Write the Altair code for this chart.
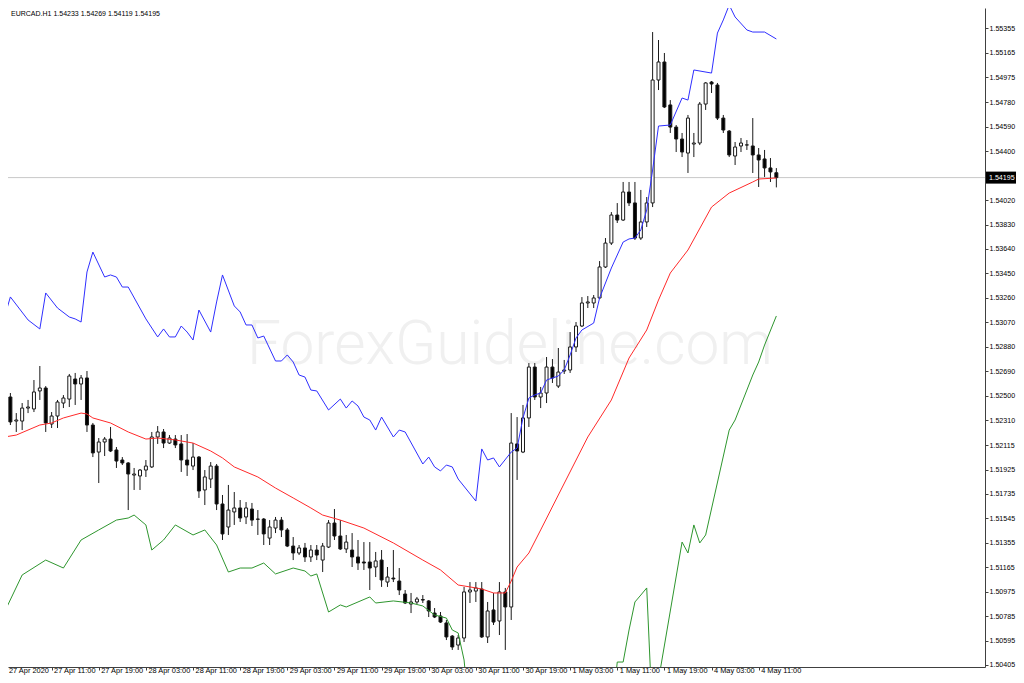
import altair as alt
import pandas as pd

# ---------------- data (EURCAD H1, bar 0 = 27 Apr 2020 03:00) ----------------
opens = [1.52676, 1.52489, 1.52302, 1.52302, 1.52403, 1.52396, 1.52536, 1.52559, 1.52279, 1.52341,
         1.52442, 1.52473, 1.52629, 1.52590, 1.52637, 1.52271, 1.52061, 1.52139, 1.52162, 1.52077,
         1.51999, 1.51976, 1.51882, 1.51875, 1.51921, 1.51945, 1.52178, 1.52217, 1.52131, 1.52162,
         1.52124, 1.51999, 1.51952, 1.52022, 1.51766, 1.51851, 1.51952, 1.51657, 1.51478, 1.51595,
         1.51626, 1.51556, 1.51618, 1.51540, 1.51540, 1.51392, 1.51470, 1.51532, 1.51455, 1.51330,
         1.51276, 1.51315, 1.51245, 1.51299, 1.51221, 1.51322, 1.51509, 1.51408, 1.51307, 1.51299,
         1.51245, 1.51206, 1.51206, 1.51167, 1.51221, 1.51050, 1.51081, 1.51058, 1.50957, 1.50879,
         1.50895, 1.50914, 1.50903, 1.50809, 1.50786, 1.50732, 1.50630, 1.50560, 1.50615, 1.50973,
         1.50980, 1.50996, 1.50623, 1.50833, 1.50747, 1.50973, 1.50856, 1.52124, 1.52061, 1.52326,
         1.52722, 1.52489, 1.52520, 1.52722, 1.52574, 1.52691, 1.52699, 1.52878, 1.53041, 1.53220,
         1.53220, 1.53259, 1.53500, 1.53686, 1.53904, 1.53865, 1.54083, 1.53998, 1.53725, 1.53850,
         1.53998, 1.54954, 1.55094, 1.54760, 1.54588, 1.54495, 1.54386, 1.54456, 1.54464, 1.54767,
         1.54938, 1.54915, 1.54658, 1.54557, 1.54363, 1.54441, 1.54448, 1.54441, 1.54371, 1.54340,
         1.54270, 1.54233]
highs = [1.52699, 1.52520, 1.52364, 1.52442, 1.52466, 1.52621, 1.52730, 1.52574, 1.52372, 1.52466,
         1.52504, 1.52668, 1.52676, 1.52660, 1.52691, 1.52287, 1.52170, 1.52178, 1.52256, 1.52100,
         1.52022, 1.51983, 1.51937, 1.51929, 1.51999, 1.52217, 1.52263, 1.52240, 1.52193, 1.52193,
         1.52193, 1.52201, 1.52131, 1.52030, 1.51921, 1.51983, 1.51968, 1.51727, 1.51805, 1.51750,
         1.51688, 1.51672, 1.51665, 1.51610, 1.51548, 1.51532, 1.51556, 1.51556, 1.51470, 1.51400,
         1.51338, 1.51354, 1.51338, 1.51338, 1.51354, 1.51532, 1.51618, 1.51532, 1.51416, 1.51431,
         1.51377, 1.51361, 1.51361, 1.51284, 1.51299, 1.51167, 1.51299, 1.51159, 1.50988, 1.50965,
         1.50934, 1.50949, 1.50910, 1.50848, 1.50817, 1.50755, 1.50638, 1.50638, 1.51012, 1.51050,
         1.51050, 1.51050, 1.50895, 1.50965, 1.51050, 1.51004, 1.52364, 1.52333, 1.52427, 1.52753,
         1.52753, 1.52567, 1.52800, 1.52784, 1.52870, 1.52777, 1.52994, 1.53072, 1.53266, 1.53274,
         1.53282, 1.53546, 1.53725, 1.53927, 1.53997, 1.54161, 1.54161, 1.54161, 1.54099, 1.54044,
         1.55327, 1.55265, 1.55164, 1.54798, 1.54604, 1.54542, 1.54682, 1.54542, 1.54783, 1.54938,
         1.54946, 1.54931, 1.54682, 1.54565, 1.54472, 1.54503, 1.54487, 1.54658, 1.54425, 1.54410,
         1.54347, 1.54269]
lows = [1.52466, 1.52271, 1.52217, 1.52232, 1.52364, 1.52372, 1.52466, 1.52217, 1.52248, 1.52248,
        1.52403, 1.52411, 1.52427, 1.52466, 1.52217, 1.52022, 1.51820, 1.52030, 1.52061, 1.51937,
        1.51960, 1.51610, 1.51766, 1.51766, 1.51867, 1.51937, 1.52124, 1.52092, 1.52124, 1.52092,
        1.51906, 1.51875, 1.51921, 1.51704, 1.51649, 1.51781, 1.51610, 1.51377, 1.51416, 1.51494,
        1.51517, 1.51501, 1.51486, 1.51416, 1.51338, 1.51338, 1.51431, 1.51400, 1.51322, 1.51221,
        1.51260, 1.51206, 1.51206, 1.51221, 1.51128, 1.51315, 1.51377, 1.51299, 1.51276, 1.51167,
        1.51144, 1.51144, 1.50988, 1.51089, 1.51012, 1.51012, 1.51050, 1.50949, 1.50879, 1.50809,
        1.50879, 1.50887, 1.50778, 1.50770, 1.50732, 1.50599, 1.50522, 1.50522, 1.50584, 1.50887,
        1.50895, 1.50615, 1.50576, 1.50716, 1.50638, 1.50522, 1.50755, 1.51844, 1.52053, 1.52256,
        1.52466, 1.52403, 1.52442, 1.52598, 1.52559, 1.52668, 1.52676, 1.52839, 1.53033, 1.53181,
        1.53181, 1.53251, 1.53492, 1.53671, 1.53842, 1.53858, 1.53974, 1.53710, 1.53710, 1.53811,
        1.53966, 1.54876, 1.54736, 1.54542, 1.54394, 1.54355, 1.54231, 1.54355, 1.54448, 1.54721,
        1.54853, 1.54643, 1.54542, 1.54355, 1.54293, 1.54394, 1.54410, 1.54231, 1.54122, 1.54200,
        1.54161, 1.54119]
closes = [1.52489, 1.52295, 1.52310, 1.52403, 1.52411, 1.52528, 1.52559, 1.52287, 1.52341, 1.52450,
          1.52481, 1.52652, 1.52590, 1.52637, 1.52271, 1.52054, 1.52139, 1.52162, 1.52069, 1.51991,
          1.51976, 1.51890, 1.51890, 1.51921, 1.51952, 1.52178, 1.52217, 1.52131, 1.52170, 1.52116,
          1.51999, 1.51960, 1.52022, 1.51758, 1.51867, 1.51952, 1.51657, 1.51424, 1.51610, 1.51626,
          1.51548, 1.51626, 1.51532, 1.51538, 1.51424, 1.51478, 1.51532, 1.51455, 1.51330, 1.51276,
          1.51315, 1.51245, 1.51299, 1.51260, 1.51330, 1.51509, 1.51408, 1.51307, 1.51361, 1.51245,
          1.51198, 1.51198, 1.51159, 1.51214, 1.51066, 1.51089, 1.51074, 1.50988, 1.50887, 1.50895,
          1.50918, 1.50910, 1.50825, 1.50778, 1.50739, 1.50623, 1.50545, 1.50615, 1.50973, 1.50988,
          1.51004, 1.50623, 1.50825, 1.50739, 1.50973, 1.50856, 1.52131, 1.52069, 1.52326, 1.52722,
          1.52489, 1.52520, 1.52722, 1.52637, 1.52683, 1.52699, 1.52878, 1.53041, 1.53220, 1.53228,
          1.53259, 1.53500, 1.53686, 1.53904, 1.53865, 1.54083, 1.53998, 1.53725, 1.53850, 1.53998,
          1.54954, 1.55094, 1.54744, 1.54588, 1.54495, 1.54394, 1.54658, 1.54464, 1.54767, 1.54931,
          1.54923, 1.54658, 1.54565, 1.54371, 1.54433, 1.54464, 1.54450, 1.54371, 1.54332, 1.54270,
          1.54239, 1.54195]

# moving average (red)
red_idx = [0, 2, 6, 8, 10, 13, 14, 15, 18, 21, 24, 26, 29, 32, 35, 37, 39, 43, 46, 49, 52, 54, 57, 61, 66,
           71, 74, 77, 79, 81, 83, 85, 86, 87, 89, 91, 94, 99, 103, 106, 109, 111, 113, 116, 120, 123,
           127, 128, 131]
red_val = [1.52178, 1.52193, 1.52271, 1.52287, 1.52326, 1.52364, 1.52357, 1.52326, 1.52287, 1.52217,
           1.52162, 1.52170, 1.52155, 1.52131, 1.52069, 1.52015, 1.51945, 1.51867, 1.51781, 1.51704,
           1.51626, 1.51571, 1.51532, 1.51470, 1.51354, 1.51221, 1.51144, 1.51027, 1.51012, 1.50996,
           1.50965, 1.50965, 1.51058, 1.51167, 1.51276, 1.51455, 1.51727, 1.52178, 1.52466, 1.52792,
           1.53010, 1.53243, 1.53453, 1.53632, 1.53966, 1.54075, 1.54161, 1.54184, 1.54192]

# upper line (blue)
blue_idx = [0, 1, 4, 6, 7, 9, 11, 12, 13, 14, 15, 17, 18, 19, 20, 21, 24, 26, 27, 28, 29, 30, 31, 32, 33,
            35, 36, 37, 39, 40, 41, 42, 43, 44, 46, 47, 48, 49, 50, 51, 52, 53, 55, 57, 58, 59, 60, 61,
            62, 63, 64, 66, 67, 68, 71, 72, 73, 74, 75, 76, 77, 80, 81, 82, 83, 84, 86, 87, 88, 89, 90,
            91, 92, 94, 95, 96, 97, 98, 100, 101, 103, 105, 106, 107, 108, 109, 110, 111, 113, 115, 116,
            117, 120, 121, 122, 123, 124, 126, 127, 129, 131]
blue_val = [1.53111, 1.53267, 1.53088, 1.53018, 1.53298, 1.53181, 1.53111, 1.53096, 1.53072, 1.53461,
            1.53616, 1.53422, 1.53438, 1.53422, 1.53344, 1.53344, 1.53096, 1.52956, 1.53018, 1.52956,
            1.52956, 1.53041, 1.52994, 1.52932, 1.53165, 1.52994, 1.53228, 1.53438, 1.53197, 1.53150,
            1.53049, 1.53049, 1.52948, 1.52963, 1.52769, 1.52769, 1.52816, 1.52761, 1.52660, 1.52644,
            1.52543, 1.52536, 1.52388, 1.52473, 1.52403, 1.52458, 1.52419, 1.52333, 1.52310, 1.52232,
            1.52333, 1.52178, 1.52232, 1.52217, 1.51968, 1.52022, 1.51945, 1.51914, 1.51960, 1.51945,
            1.51851, 1.51680, 1.52085, 1.51999, 1.52015, 1.51945, 1.52061, 1.52092, 1.52326, 1.52481,
            1.52505, 1.52520, 1.52621, 1.52652, 1.52699, 1.52816, 1.52948, 1.53010, 1.53064, 1.53259,
            1.53492, 1.53694, 1.53718, 1.53725, 1.53788, 1.53943, 1.54254, 1.54596, 1.54604, 1.54814,
            1.54798, 1.55032, 1.55008, 1.55319, 1.55421, 1.55537, 1.55444, 1.55343, 1.55327, 1.55327,
            1.55273]

# lower line (green)
green_idx = [0, 3, 7, 10, 13, 16, 19, 21, 22, 24, 25, 27, 29, 32, 34, 36, 38, 40, 42, 44, 46, 49, 51, 52,
             53, 55, 57, 58, 62, 63, 66, 69, 71, 73, 75, 76, 77, 78, 79, 90, 103, 104, 105, 106, 107,
             108, 109, 110, 111, 115, 116, 117, 118, 119, 123, 124, 126, 127, 128, 129, 131]
green_val = [1.50817, 1.51105, 1.51221, 1.51159, 1.51377, 1.51455, 1.51532, 1.51548, 1.51571, 1.51494,
             1.51299, 1.51377, 1.51494, 1.51416, 1.51455, 1.51338, 1.51128, 1.51159, 1.51159, 1.51198,
             1.51113, 1.51159, 1.51136, 1.51097, 1.51113, 1.50817, 1.50872, 1.50856, 1.50934, 1.50887,
             1.50903, 1.50887, 1.50864, 1.50794, 1.50770, 1.50677, 1.50654, 1.50444, 1.49977, 1.49900,
             1.49977, 1.50428, 1.50428, 1.50677, 1.50895, 1.50949, 1.51004, 1.49977, 1.50288, 1.51361,
             1.51276, 1.51494, 1.51354, 1.51416, 1.52232, 1.52310, 1.52543, 1.52660, 1.52761, 1.52893,
             1.53119]

# axis ticks / labels
time_tick_idx = [8, 16, 24, 32, 40, 48, 56, 64, 72, 80, 88, 96, 104, 112, 120, 128]
time_tick_labels = ["27 Apr 11:00", "27 Apr 19:00", "28 Apr 03:00", "28 Apr 11:00", "28 Apr 19:00",
                    "29 Apr 03:00", "29 Apr 11:00", "29 Apr 19:00", "30 Apr 03:00", "30 Apr 11:00",
                    "30 Apr 19:00", "1 May 03:00", "1 May 11:00", "1 May 19:00", "4 May 03:00",
                    "4 May 11:00"]
first_label = "27 Apr 2020"
price_ticks = [1.55545, 1.55355, 1.55165, 1.54975, 1.54780, 1.54590, 1.54400, 1.54210, 1.54020,
               1.53830, 1.53640, 1.53450, 1.53260, 1.53070, 1.52880, 1.52690, 1.52500, 1.52310,
               1.52115, 1.51925, 1.51735, 1.51545, 1.51355, 1.51165, 1.50975, 1.50785, 1.50595,
               1.50405]
symbol = "EURCAD.H1"
watermark = "ForexGuideline.com"

# ---------------- chart ----------------
PX_PER_BAR = 5.953
W, H = 977, 659
FONT = "Liberation Sans"
xscale = alt.Scale(domain=[1.445, 1.445 + W / PX_PER_BAR], nice=False, zero=False)
yscale = alt.Scale(domain=[1.503894, 1.555139], nice=False, zero=False)

candles = pd.DataFrame({"i": list(range(len(opens))), "open": opens, "high": highs,
                        "low": lows, "close": closes})
candles["dir"] = ["up" if c >= o else "down" for o, c in zip(opens, closes)]

label_js = "[" + ",".join("'%s'" % s for s in time_tick_labels) + "]"
x_axis = alt.Axis(values=time_tick_idx, labelExpr=label_js + "[round(datum.value/8)-1]",
                  orient="bottom", tickSize=3, labelPadding=2.5, labelAlign="left",
                  labelBaseline="alphabetic", labelOffset=2, labelFontSize=7.4, labelFont=FONT,
                  labelColor="#000000", domainColor="#404040", tickColor="#404040",
                  grid=False, title=None, labelFlush=False, labelOverlap=False)
y_axis = alt.Axis(values=price_ticks, format=".5f", orient="right", tickSize=3, labelPadding=1,
                  labelAlign="left", labelBaseline="middle", labelFontSize=7.1, labelFont=FONT,
                  labelColor="#000000", domainColor="#404040", tickColor="#404040",
                  grid=False, title=None, labelFlush=False, labelOverlap=False)


def X(field):
    return alt.X(field, type="quantitative", scale=xscale, axis=x_axis)


def Y(field):
    return alt.Y(field, type="quantitative", scale=yscale, axis=y_axis)


wm = alt.Chart(pd.DataFrame({"t": [watermark]})).mark_text(
    font="Roboto", fontSize=60.5, fontWeight=300, color="#f0f0f0", align="center",
    baseline="alphabetic").encode(x=alt.value(502), y=alt.value(356), text="t:N")

last = pd.DataFrame({"p": [closes[-1]], "t": ["%.5f" % closes[-1]]})
price_line = alt.Chart(last).mark_rule(color="#c8c8c8", strokeWidth=1).encode(y=Y("p"))

wicks = alt.Chart(candles).mark_rule(color="#1a1a1a", strokeWidth=1).encode(
    x=X("i"), y=Y("low"), y2="high:Q")

bodies = alt.Chart(candles).mark_bar(size=3, stroke="#1a1a1a", strokeWidth=1).encode(
    x=X("i"), y=Y("open"), y2="close:Q",
    fill=alt.Fill("dir:N", scale=alt.Scale(domain=["up", "down"], range=["#ffffff", "#000000"]),
                  legend=None))


def line(idx, vals, color):
    df = pd.DataFrame({"i": idx, "v": vals})
    return alt.Chart(df).mark_line(color=color, strokeWidth=1, clip=True).encode(
        x=X("i"), y=Y("v"))


red = line(red_idx, red_val, "#ff2a2a")
blue = line(blue_idx, blue_val, "#2f2fff")
green = line(green_idx, green_val, "#2e962e")

header = alt.Chart(pd.DataFrame({"t": ["%s  %.5f %.5f %.5f %.5f" % (symbol, opens[-1], highs[-1],
                                                                   lows[-1], closes[-1])]})
                   ).mark_text(font=FONT, fontSize=7, color="#000000", align="left",
                               baseline="middle").encode(x=alt.value(3), y=alt.value(6), text="t:N")

first_lbl = alt.Chart(pd.DataFrame({"t": [first_label]})).mark_text(
    font=FONT, fontSize=7.4, color="#000000", align="left", baseline="alphabetic").encode(
    x=alt.value(1), y=alt.value(H + 5.5), text="t:N")

tag_bg = alt.Chart(last).mark_rule(color="#000000", strokeWidth=12, strokeCap="butt",
                                   clip=False).encode(
    y=Y("p"), x=alt.value(W + 1), x2=alt.value(W + 31))
tag_txt = alt.Chart(last).mark_text(font=FONT, fontSize=7.1, color="#ffffff", align="left",
                                    baseline="middle").encode(
    y=Y("p"), x=alt.value(W + 4), text="t:N")

chart = alt.layer(wm, price_line, wicks, bodies, red, blue, green, header, first_lbl,
                  tag_bg, tag_txt).properties(
    width=W, height=H,
    padding={"left": 0, "top": 0, "right": 31, "bottom": 8},
    autosize=alt.AutoSizeParams(type="none"),
    background="#ffffff",
).configure_view(stroke=None)

chart.save("out.html", embed_options={"renderer": "svg", "actions": False})
